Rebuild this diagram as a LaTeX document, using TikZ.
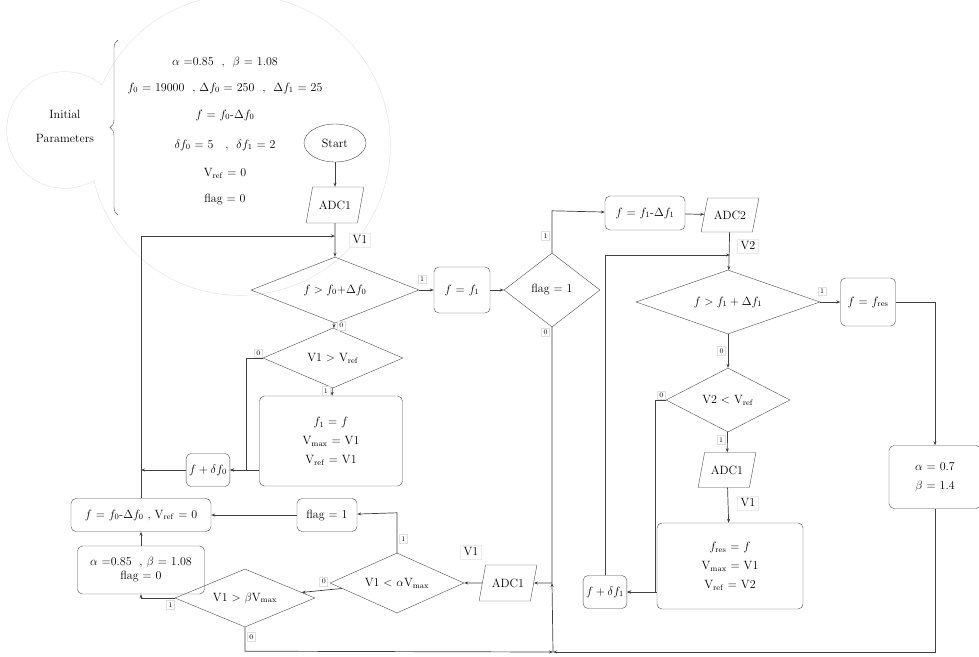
\documentclass[tikz,border=0pt]{standalone}
\usepackage{tikz}
\usetikzlibrary{calc,positioning,arrows.meta,shapes.geometric,decorations.pathreplacing}

\begin{document}
\begin{tikzpicture}[x=1pt,y=-1pt,>={Stealth[length=4pt,width=3pt]},
  every node/.style={font=\fontsize{12}{14}\selectfont},
  proc/.style={draw=black!70,rounded corners=5pt,align=center,inner sep=3pt},
  dec/.style={draw=black!70,diamond,inner sep=0pt},
  io/.style={draw=black!70,trapezium,trapezium left angle=70,trapezium right angle=110,
    trapezium stretches=true,minimum width=58pt,minimum height=36pt},
  lbl/.style={draw=black!12,font=\fontsize{7}{8}\selectfont,inner sep=2pt},
  vlbl/.style={draw=black!8,inner sep=3pt},
  line/.style={draw=black!75,line width=0.7pt}]
  \useasboundingbox (0,0) rectangle (979,656);

  % initial parameters cloud
  \draw[black!10,line width=1.2pt] (65,130) circle (58) (240,145) circle (150);
  \fill[white] (65,130) circle (58) (240,145) circle (150);
  \node (init) at (65,126) [align=center] {Initial\\[10pt]Parameters};
  \draw[black!70,decorate,decoration={brace,amplitude=8pt}] (118,215) -- (118,40);
  \node (p1) at (225,62) {$\alpha$ =0.85\ \ ,\ \ $\beta$ = 1.08};
  \node (p2) at (225,88) {$f_0$ = 19000\ \ ,\ $\Delta f_0$ = 250\ \ ,\ \ $\Delta f_1$ = 25};
  \node (p3) at (225,115) {$f$ = $f_0$-$\Delta f_0$};
  \node (p4) at (225,145) {$\delta f_0$ = 5\ \ \ ,\ \ $\delta f_1$ = 2};
  \node (p5) at (225,173) {V$_{\rm ref}$ = 0};
  \node (p6) at (225,200) {flag = 0};

  % first search
  \node (start) at (335,143) [draw=black!70,ellipse,minimum width=62pt,minimum height=38pt] {Start};
  \node (adcA) at (335,205) [io] {ADC1};
  \coordinate (jA) at (335,236);
  \node at (360,240) [vlbl] {V1};
  \node (dA) at (335,290) [dec,minimum width=168pt,minimum height=66pt,aspect=2.5] {$f > f_0{+}\Delta f_0$};
  \node (fA) at (462,290) [proc,minimum width=56pt,minimum height=46pt] {$f$ = $f_1$};
  \node (dFlag) at (552,290) [dec,minimum width=96pt,minimum height=74pt,aspect=1.3] {flag = 1};
  \node (dB) at (333,358) [dec,minimum width=140pt,minimum height=60pt,aspect=2.3] {V1 $>$ V$_{\rm ref}$};
  \node (bA) at (331,441) [proc,minimum width=143pt,minimum height=90pt] {$f_1$ = $f$\\[5pt]V$_{\rm max}$ = V1\\[5pt]V$_{\rm ref}$ = V1};
  \node (stA) at (208,470) [proc,minimum height=33pt] {$f + \delta f_0$};
  \node (reset) at (141,515) [proc,minimum width=140pt,minimum height=33pt] {$f$ = $f_0$-$\Delta f_0$ , V$_{\rm ref}$ = 0};
  \node (init2) at (141,570) [proc,minimum width=127pt,minimum height=48pt] {$\alpha$ =0.85\ \ ,\ $\beta$ = 1.08\\flag = 0};
  \node (fl1) at (327,515) [proc,minimum width=60pt,minimum height=33pt] {flag = 1};
  \node (dC) at (245,598) [dec,minimum width=140pt,minimum height=58pt,aspect=2.4] {V1 $>$ $\beta$V$_{\rm max}$};
  \node (dD) at (397,583) [dec,minimum width=134pt,minimum height=60pt,aspect=2.2] {V1 $<$ $\alpha$V$_{\rm max}$};
  \node (adcB) at (508,583) [io] {ADC1};
  \node at (471,552) [vlbl] {V1};

  % second search
  \node (fB) at (645,213) [proc,minimum width=80pt,minimum height=34pt] {$f$ = $f_1$-$\Delta f_1$};
  \node (adcC) at (730,215) [io,minimum height=34pt] {ADC2};
  \coordinate (jB) at (730,255);
  \node at (748,246) [vlbl] {V2};
  \node (dE) at (728,302) [dec,minimum width=184pt,minimum height=64pt,aspect=2.8] {$f > f_1 + \Delta f_1$};
  \node (fres) at (868,302) [proc,minimum width=55pt,minimum height=48pt] {$f$ = $f_{\rm res}$};
  \node (ab) at (935,477) [proc,minimum width=92pt,minimum height=63pt] {$\alpha$ = 0.7\\[5pt]$\beta$ = 1.4};
  \node (dF) at (728,400) [dec,minimum width=124pt,minimum height=64pt,aspect=2] {V2 $<$ V$_{\rm ref}$};
  \node (adcD) at (727,470) [io,minimum height=35pt] {ADC1};
  \node at (748,503) [vlbl] {V1};
  \node (bB) at (730,566) [proc,minimum width=146pt,minimum height=86pt] {$f_{\rm res}$ = $f$\\[5pt]V$_{\rm max}$ = V1\\[5pt]V$_{\rm ref}$ = V2};
  \node (stB) at (605,592) [proc,minimum height=33pt] {$f + \delta f_1$};
  \coordinate (jC) at (553,652);

  % connectors
  \draw[line,->] (start) -- (adcA);
  \draw[line,->] (adcA) -- (dA);
  \draw[line,->] (dA) -- node[lbl,above=6pt,pos=0.2] {1} (fA);
  \draw[line,->] (fA) -- (dFlag);
  \draw[line,->] (dA) -- node[lbl,right=3pt,pos=0.5] {0} (dB);
  \draw[line,->] (dB) -- node[lbl,left=2pt,pos=0.4] {1} (bA);
  \draw[line,->] (dB.west) -- node[lbl,above left=0pt and 0pt,pos=0] {0} ++(-16,0) |- (stA);
  \draw[line,->] (bA.west |- stA) -- (stA);
  \draw[line,->] (stA) -- (reset.north |- stA);
  \draw[line,->] (reset.north) |- (jA);
  \draw[line,->] (fl1) -- (reset);
  \draw[line,->] (init2) -- (reset);
  \draw[line,->] (dD.north) -- node[lbl,right=2pt,pos=0.35] {1} ++(0,-40) -- (fl1);
  \draw[line,->] (dD) -- node[lbl,above=4pt,pos=0.45] {0} (dC);
  \draw[line,->] (dC.west) -- node[lbl,below left=2pt and 0pt,pos=0] {1} (init2.south |- dC.west) -- (init2);
  \draw[line,->] (adcB) -- (dD);
  \draw[line,->] (dFlag.south) -- node[lbl,left=2pt,pos=0.02] {0} (dFlag.south |- adcB) -- (adcB);
  \draw[line,->] (dFlag.north) -- node[lbl,left=2pt,pos=0.4] {1} ++(0,-42) -- (fB);
  \draw[line,->] (fB) -- (adcC);
  \draw[line,->] (adcC) -- (dE);
  \draw[line,->] (dE) -- node[lbl,above=6pt,pos=0.1] {1} (fres);
  \draw[line,->] (fres.east) -| (ab.north);
  \draw[line,->] (ab.south) |- (jC);
  \draw[line,->] (dC.south) -- node[lbl,right=2pt,pos=0.4] {0} ++(0,24) -- (jC);
  \draw[line,->] (jC) -- (dFlag.south |- adcB);
  \draw[line,->] (dE) -- node[lbl,left=2pt,pos=0.5] {0} (dF);
  \draw[line,->] (dF) -- node[lbl,left=2pt,pos=0.4] {1} (adcD);
  \draw[line,->] (adcD) -- (bB);
  \draw[line,->] (dF.west) -- node[lbl,above left=0pt and 0pt,pos=0] {0} ++(-10,0) |- (stB);
  \draw[line,->] (bB.west |- stB) -- (stB);
  \draw[line,->] (stB.north) |- (jB);
\end{tikzpicture}
\end{document}
